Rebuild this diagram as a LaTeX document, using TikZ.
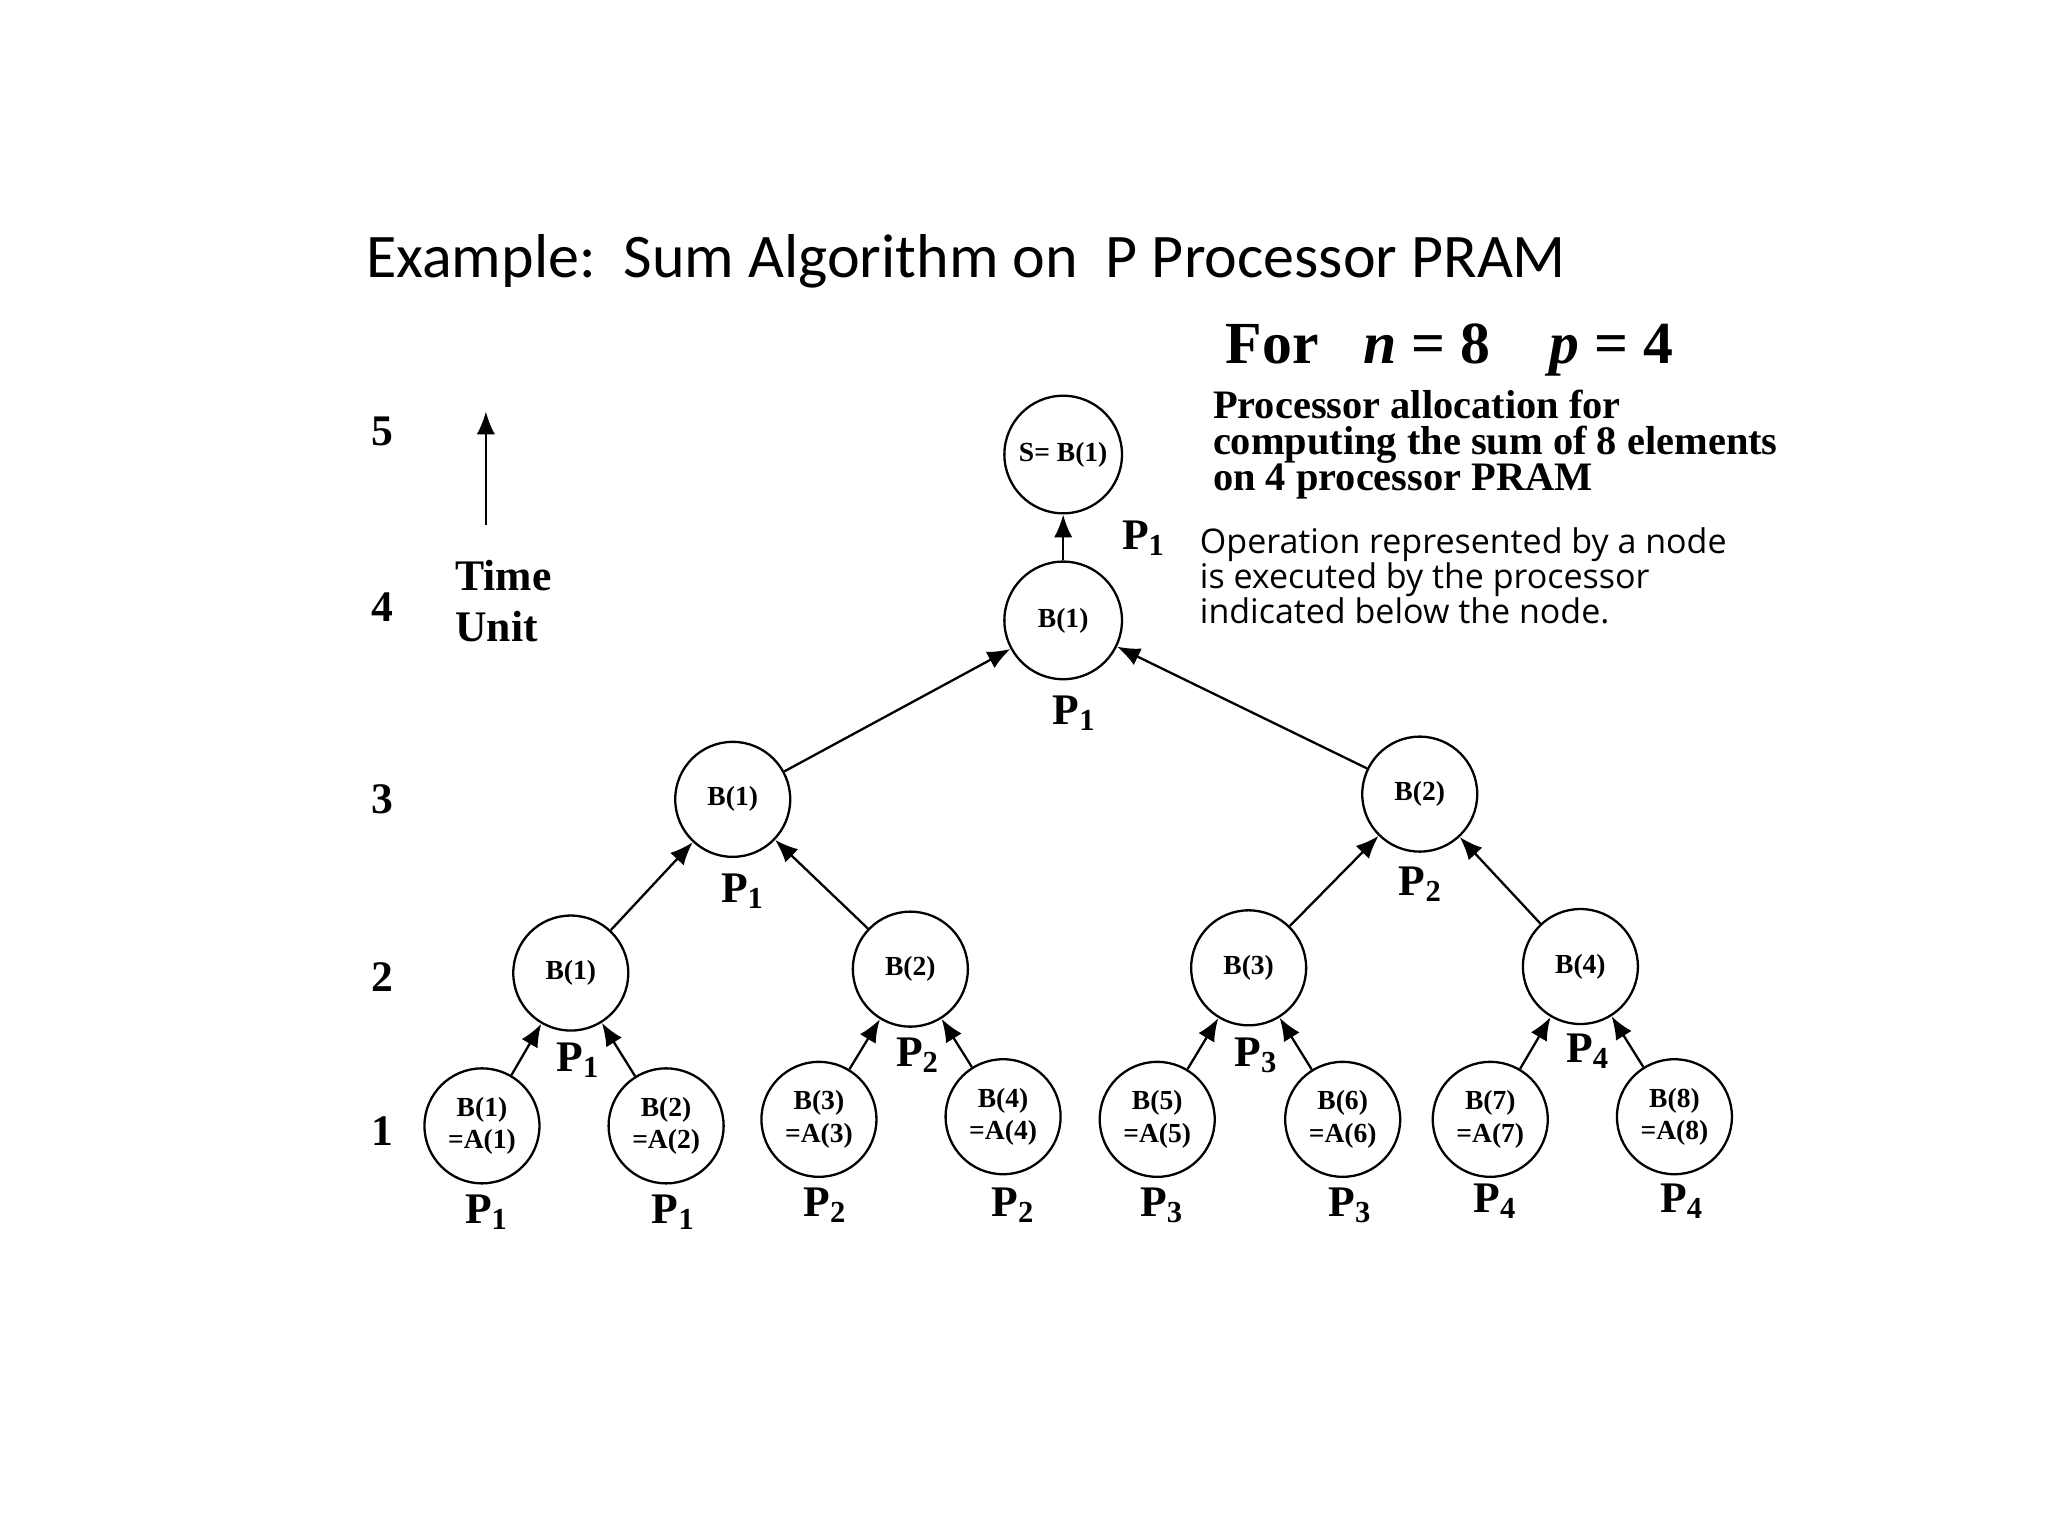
\documentclass[tikz,border=0pt]{standalone}
\usepackage{fontspec}
\setmainfont{Liberation Serif}
\newfontfamily\titlef{Carlito}
\newfontfamily\opf{Open Sans}
\usetikzlibrary{arrows.meta}
\begin{document}
\begin{tikzpicture}[x=0.01cm,y=-0.01cm,
 nd/.style={circle,draw,line width=0.5pt,minimum size=0.88cm,inner sep=0pt,align=center,font=\fontsize{6}{7}\selectfont\bfseries},
 pl/.style={font=\fontsize{9.5}{10}\selectfont\bfseries},
 num/.style={font=\fontsize{9.5}{10}\selectfont\bfseries},
 ar/.style={-{Latex[length=5pt,width=4pt]},line width=0.5pt}]
\useasboundingbox (0,0) rectangle (1568,1176);
\node[anchor=west,font=\titlef\fontsize{13.5}{15}\selectfont] (title) at (268,200) {Example:\ \ Sum Algorithm on\ \ P Processor PRAM};
\foreach \t/\y in {5/330,4/465,3/612,2/748,1/866} \node[num] (n\t) at (293,\y) {\t};
\coordinate (ta) at (372,402); \coordinate (tb) at (372,315);
\draw[ar] (ta) -- (tb);
\node[anchor=north west,align=left,font=\fontsize{9.5}{11.2}\selectfont\bfseries,inner sep=0pt] (tu) at (348,428) {Time\\Unit};
% nodes
\node[nd,minimum size=0.9cm] (s) at (814,348) {S= B(1)};
\node[nd,minimum size=0.9cm] (r) at (814,475) {B(1)};
\node[nd] (a1) at (561,612) {B(1)};
\node[nd] (a2) at (1087,608) {B(2)};
\node[nd] (b1) at (437,745) {B(1)};
\node[nd] (b2) at (697,742) {B(2)};
\node[nd] (b3) at (956,741) {B(3)};
\node[nd] (b4) at (1210,740) {B(4)};
\node[nd] (c1) at (369,862) {B(1)\\=A(1)};
\node[nd] (c2) at (510,862) {B(2)\\=A(2)};
\node[nd] (c3) at (627,857) {B(3)\\=A(3)};
\node[nd] (c4) at (768,855) {B(4)\\=A(4)};
\node[nd] (c5) at (886,857) {B(5)\\=A(5)};
\node[nd] (c6) at (1028,857) {B(6)\\=A(6)};
\node[nd] (c7) at (1141,857) {B(7)\\=A(7)};
\node[nd] (c8) at (1282,855) {B(8)\\=A(8)};
% edges
\draw[ar] (r) -- (s);
\draw[ar] (a1) -- (r); \draw[ar] (a2) -- (r);
\draw[ar] (b1) -- (a1); \draw[ar] (b2) -- (a1);
\draw[ar] (b3) -- (a2); \draw[ar] (b4) -- (a2);
\draw[ar] (c1) -- (b1); \draw[ar] (c2) -- (b1);
\draw[ar] (c3) -- (b2); \draw[ar] (c4) -- (b2);
\draw[ar] (c5) -- (b3); \draw[ar] (c6) -- (b3);
\draw[ar] (c7) -- (b4); \draw[ar] (c8) -- (b4);
% P labels
\foreach \n/\x/\y/\k in {p1/373/928/1,p2/516/928/1,p3/632/923/2,p4/776/923/2,p5/890/923/3,p6/1034/923/3,p7/1145/920/4,p8/1288/920/4,q1/443/812/1,q2/703/808/2,q3/962/808/3,q4/1216/805/4,u1/569/682/1,u2/1088/677/2,v1/823/546/1,w1/876/412/1}
  \node[pl] (\n) at (\x,\y) {P$_{\mathbf{\k}}$};
% right texts
\node[anchor=west,font=\fontsize{13}{15}\selectfont\bfseries] (for) at (926,268) {For\ \ \ \textit{n} = 8\ \ \ \ \textit{p} = 4};
\node[anchor=north west,align=left,inner sep=0pt,font=\fontsize{8.8}{7.8}\selectfont\bfseries] (pa) at (928,298) {Processor allocation for\\computing the sum of 8 elements\\on 4 processor PRAM};
\node[anchor=north west,align=left,inner sep=0pt,font=\opf\fontsize{7.4}{7.7}\selectfont] (op) at (918,403) {Operation represented by a node\\is executed by the processor\\indicated below the node.};
\end{tikzpicture}
\end{document}
